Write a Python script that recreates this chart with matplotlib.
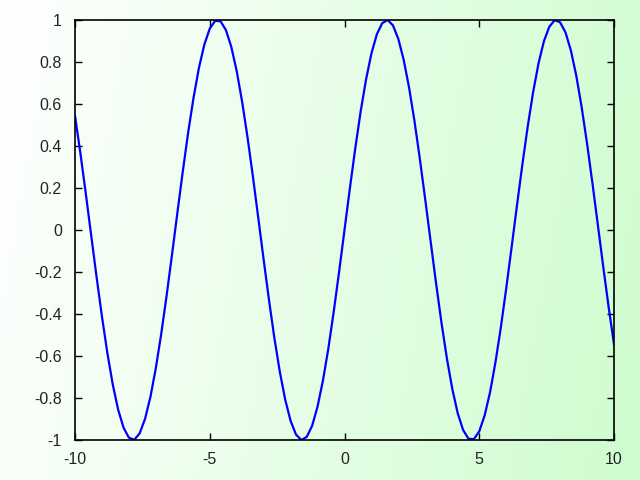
import matplotlib
matplotlib.use('Agg')
import matplotlib.pyplot as plt
import numpy as np
from matplotlib.ticker import FuncFormatter

plt.rcParams['font.family'] = ['Liberation Sans', 'DejaVu Sans']
plt.rcParams['axes.unicode_minus'] = False

x_vals = [-10.0, -9.8, -9.6, -9.4, -9.2, -9.0, -8.8, -8.6, -8.4, -8.2,
          -8.0, -7.8, -7.6, -7.4, -7.2, -7.0, -6.8, -6.6, -6.4, -6.2,
          -6.0, -5.8, -5.6, -5.4, -5.2, -5.0, -4.8, -4.6, -4.4, -4.2,
          -4.0, -3.8, -3.6, -3.4, -3.2, -3.0, -2.8, -2.6, -2.4, -2.2,
          -2.0, -1.8, -1.6, -1.4, -1.2, -1.0, -0.8, -0.6, -0.4, -0.2,
          0.0, 0.2, 0.4, 0.6, 0.8, 1.0, 1.2, 1.4, 1.6, 1.8,
          2.0, 2.2, 2.4, 2.6, 2.8, 3.0, 3.2, 3.4, 3.6, 3.8,
          4.0, 4.2, 4.4, 4.6, 4.8, 5.0, 5.2, 5.4, 5.6, 5.8,
          6.0, 6.2, 6.4, 6.6, 6.8, 7.0, 7.2, 7.4, 7.6, 7.8,
          8.0, 8.2, 8.4, 8.6, 8.8, 9.0, 9.2, 9.4, 9.6, 9.8, 10.0]
y_vals = [0.544, 0.366, 0.174, -0.025, -0.223, -0.412, -0.585, -0.735, -0.855, -0.941,
          -0.989, -0.999, -0.968, -0.899, -0.794, -0.657, -0.494, -0.312, -0.117, 0.083,
          0.279, 0.465, 0.631, 0.773, 0.883, 0.959, 0.996, 0.994, 0.952, 0.872,
          0.757, 0.612, 0.443, 0.256, 0.058, -0.141, -0.335, -0.516, -0.675, -0.808,
          -0.909, -0.974, -1.000, -0.985, -0.932, -0.841, -0.717, -0.565, -0.389, -0.199,
          0.0, 0.199, 0.389, 0.565, 0.717, 0.841, 0.932, 0.985, 1.000, 0.974,
          0.909, 0.808, 0.675, 0.516, 0.335, 0.141, -0.058, -0.256, -0.443, -0.612,
          -0.757, -0.872, -0.952, -0.994, -0.996, -0.959, -0.883, -0.773, -0.631, -0.465,
          -0.279, -0.083, 0.117, 0.312, 0.494, 0.657, 0.794, 0.899, 0.968, 0.999,
          0.989, 0.941, 0.855, 0.735, 0.585, 0.412, 0.223, 0.025, -0.174, -0.366, -0.544]
x_ticks = [-10, -5, 0, 5, 10]
y_ticks = [-1, -0.8, -0.6, -0.4, -0.2, 0, 0.2, 0.4, 0.6, 0.8, 1]

fig = plt.figure(figsize=(6.4, 4.8), dpi=100)

# background gradient, white -> light green
bg = fig.add_axes([0, 0, 1, 1], zorder=0)
gx, gy = np.meshgrid(np.linspace(0, 1, 256), np.linspace(0, 1, 256))
t = np.clip(0.88 * gx + 0.12 * gy, 0, 1)
img = np.zeros((256, 256, 3))
img[..., 0] = 1 - 0.19 * t
img[..., 1] = 1 - 0.01 * t
img[..., 2] = 1 - 0.19 * t
bg.imshow(img, aspect='auto', extent=[0, 1, 0, 1], origin='upper')
bg.axis('off')

ax = fig.add_axes([75 / 640, 40 / 480, 539 / 640, 420 / 480], zorder=1)
ax.patch.set_alpha(0)
ax.plot(x_vals, y_vals, color='#0000ff', lw=1.6)
ax.set_xlim(-10, 10)
ax.set_ylim(-1, 1)
ax.set_xticks(x_ticks)
ax.set_yticks(y_ticks)
fmt = FuncFormatter(lambda v, p: '%g' % round(v, 2))
ax.xaxis.set_major_formatter(fmt)
ax.yaxis.set_major_formatter(fmt)
ax.tick_params(direction='in', length=5, width=1, top=True, right=True,
               labelsize=11.5, colors='black', labelcolor='#222222')
ax.tick_params(axis='y', pad=9.5)
ax.tick_params(axis='x', pad=9)
for s in ax.spines.values():
    s.set_linewidth(1.2)

plt.savefig('out.png', dpi=100)
